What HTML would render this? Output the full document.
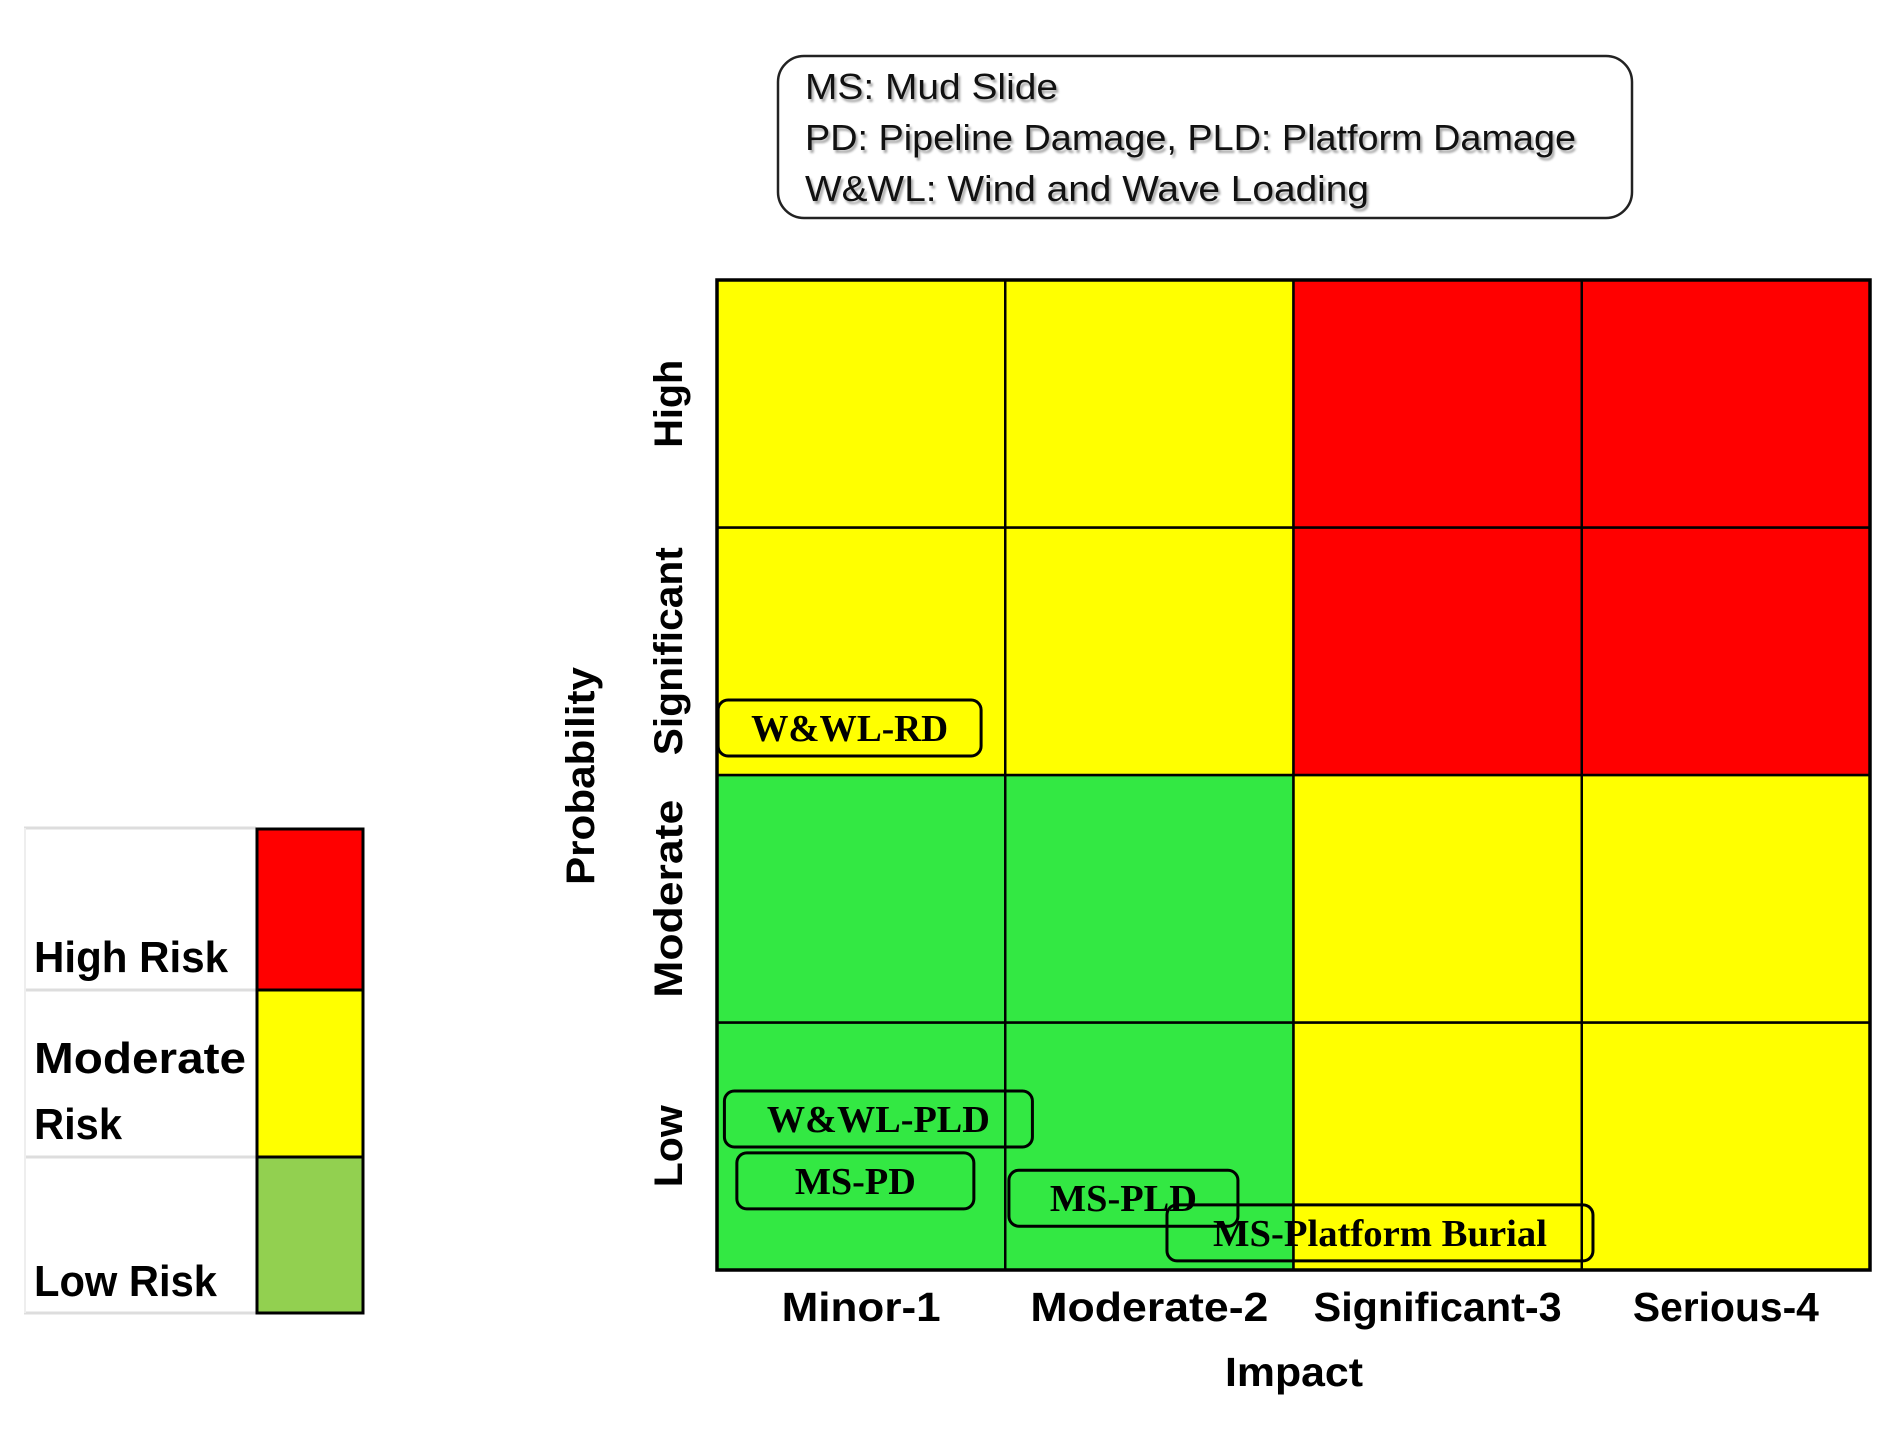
<!DOCTYPE html>
<html><head><meta charset="utf-8"><style>
html,body{margin:0;padding:0;background:#fff;}
svg{display:block;}
text{font-family:"Liberation Sans",sans-serif;}
</style></head><body>
<svg id="chart" width="1886" height="1439" viewBox="0 0 1886 1439" xmlns="http://www.w3.org/2000/svg">
  <g>
    <rect x="778" y="56" width="854" height="162" rx="26" fill="#fff" stroke="#222" stroke-width="2.5"/>
    <text x="805" y="99" font-size="36" fill="#111" textLength="253" lengthAdjust="spacingAndGlyphs" style="text-shadow:2px 3px 2px #aaa">MS: Mud Slide</text>
    <text x="805" y="150" font-size="36" fill="#111" textLength="771" lengthAdjust="spacingAndGlyphs" style="text-shadow:2px 3px 2px #aaa">PD: Pipeline Damage, PLD: Platform Damage</text>
    <text x="805" y="201" font-size="36" fill="#111" textLength="564" lengthAdjust="spacingAndGlyphs" style="text-shadow:2px 3px 2px #aaa">W&amp;WL: Wind and Wave Loading</text>
  </g>
  <g>
    <line x1="24" y1="828" x2="256" y2="828" stroke="#ddd" stroke-width="3"/>
    <line x1="24" y1="990" x2="256" y2="990" stroke="#ddd" stroke-width="3"/>
    <line x1="24" y1="1157" x2="256" y2="1157" stroke="#ddd" stroke-width="3"/>
    <line x1="24" y1="1313" x2="256" y2="1313" stroke="#ddd" stroke-width="3"/>
    <line x1="25" y1="828" x2="25" y2="1313" stroke="#eee" stroke-width="2"/>
    <rect x="257" y="829" width="106" height="161" fill="#ff0000" stroke="#000" stroke-width="3"/>
    <rect x="257" y="990" width="106" height="167" fill="#ffff00" stroke="#000" stroke-width="3"/>
    <rect x="257" y="1157" width="106" height="156" fill="#92d050" stroke="#000" stroke-width="3"/>
    <text x="34" y="972" font-size="44" font-weight="bold" textLength="194" lengthAdjust="spacingAndGlyphs">High Risk</text>
    <text x="34" y="1073" font-size="44" font-weight="bold" textLength="212" lengthAdjust="spacingAndGlyphs">Moderate</text>
    <text x="34" y="1139" font-size="44" font-weight="bold" textLength="88" lengthAdjust="spacingAndGlyphs">Risk</text>
    <text x="34" y="1296" font-size="44" font-weight="bold" textLength="183" lengthAdjust="spacingAndGlyphs">Low Risk</text>
  </g>
  <g id="grid"></g>
  <g id="items"></g>
  <g id="labels"></g>
</svg>
<script>
const impactCats = ["Minor-1","Moderate-2","Significant-3","Serious-4"];
const probCats = ["Low","Moderate","Significant","High"];
// risk level per [prob row][impact col], row 0 = Low
const riskLevels = [
  ["L","L","M","M"],
  ["L","L","M","M"],
  ["M","M","H","H"],
  ["M","M","H","H"]
];
const itemNames = ["W&WL-RD","W&WL-PLD","MS-PD","MS-PLD","MS-Platform Burial"];
const itemImpact = [0.46,0.56,0.48,1.41,2.30];
const itemProb = [2.19,0.61,0.36,0.29,0.15];

const X0=717,X1=1870,Y0=1270,Y1=280;
const cw=(X1-X0)/impactCats.length, rh=(Y0-Y1)/probCats.length;
const xs=v=>X0+v*cw, ys=v=>Y0-v*rh;
const colors={L:"#33e843",M:"#ffff00",H:"#ff0000"};
const NS="http://www.w3.org/2000/svg";
function mk(tag,attrs,parent,txt){const e=document.createElementNS(NS,tag);for(const k in attrs)e.setAttribute(k,attrs[k]);if(txt!==undefined)e.textContent=txt;parent.appendChild(e);return e;}
const grid=document.getElementById('grid');
riskLevels.forEach((row,r)=>row.forEach((lv,c)=>{
  const e=mk('rect',{x:xs(c),y:ys(r+1),width:cw,height:rh,fill:colors[lv],stroke:"#000","stroke-width":2.5},grid);
  
  
}));
mk('rect',{x:X0,y:Y1,width:X1-X0,height:Y0-Y1,fill:"none",stroke:"#000","stroke-width":3.5},grid);
const items=document.getElementById('items');
const boxW=[263,308,237,229,426], txtW=[197,223,121,147,334];
itemNames.forEach((n,i)=>{
  const cx=xs(itemImpact[i]), cy=ys(itemProb[i]), w=boxW[i], h=56;
  const g=mk('g',{},items);
  
  
  mk('rect',{x:cx-w/2,y:cy-h/2,width:w,height:h,rx:10,fill:"none",stroke:"#000","stroke-width":3},g);
  mk('text',{x:cx-txtW[i]/2,y:cy+13,"font-size":38,"font-weight":"bold",textLength:txtW[i],lengthAdjust:"spacingAndGlyphs",style:'font-family:"Liberation Serif",serif'},g,n);
});
const labels=document.getElementById('labels');
const xW=[159,238,248,186];
impactCats.forEach((c,i)=>{
  const t=mk('text',{x:xs(i+0.5)-xW[i]/2,y:1321,"font-size":41,"font-weight":"bold",textLength:xW[i],lengthAdjust:"spacingAndGlyphs"},labels,c);
  
  
});
const yW=[82,198,208,88];
probCats.forEach((c,i)=>{
  const y=ys(i+0.5);
  const t=mk('text',{x:0,y:0,"font-size":40,"font-weight":"bold","text-anchor":"middle",transform:`translate(682,${y}) rotate(-90)`,textLength:yW[i],lengthAdjust:"spacingAndGlyphs"},labels,c);
  
  
});
const xt=mk('text',{x:1294,y:1386,"font-size":41,"font-weight":"bold","text-anchor":"middle",textLength:138,lengthAdjust:"spacingAndGlyphs"},labels,"Impact");


const yt=mk('text',{x:0,y:0,"font-size":40,"font-weight":"bold","text-anchor":"middle",transform:"translate(594,776) rotate(-90)",textLength:218,lengthAdjust:"spacingAndGlyphs"},labels,"Probability");


</script>
</body></html>
